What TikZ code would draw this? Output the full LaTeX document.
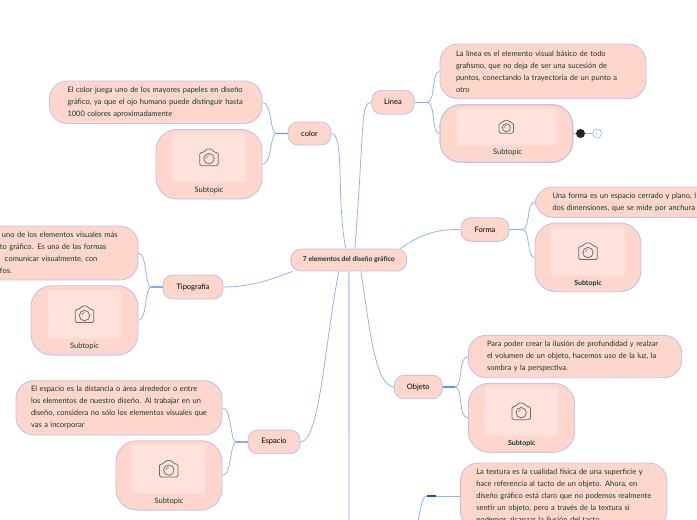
\documentclass[tikz,border=0pt]{standalone}
\usepackage{fontspec}
\setmainfont{Lato}
\definecolor{boxfill}{HTML}{FFD6CC}
\definecolor{boxline}{HTML}{C5C2E6}
\definecolor{innerfill}{HTML}{FFE2DC}
\definecolor{innerline}{HTML}{FBDAD3}
\definecolor{linkblue}{HTML}{8FB2FF}
\definecolor{brightblue}{HTML}{5F8CFF}
\definecolor{softblue}{HTML}{82A8FF}
\definecolor{darkblue}{HTML}{0A50F0}
\definecolor{paleblue}{HTML}{BBCDFF}
\definecolor{bodyink}{HTML}{0E3B2C}
\definecolor{camgrey}{HTML}{6A6A6A}
\tikzset{
  x=1pt,y=-1pt,
  textbox/.style={draw=boxline,fill=boxfill,line width=.9pt,rounded corners=18pt,align=left,inner ysep=0pt,
    text=bodyink,font=\fontsize{7.5}{12}\selectfont},
  subbox/.style={draw=boxline,fill=boxfill,line width=.9pt,rounded corners=21pt,inner sep=0pt},
  imgbox/.style={draw=innerline,fill=innerfill,line width=.6pt,rounded corners=2.5pt,inner sep=0pt},
  sublabel/.style={text=bodyink,font=\fontsize{7.5}{9}\selectfont,inner sep=0pt},
  sublabelb/.style={text=bodyink,font=\fontsize{7}{9}\bfseries\selectfont,inner sep=0pt},
  branch/.style={draw=boxline,fill=boxfill,line width=.9pt,rounded corners=10pt,inner sep=0pt,
    text=black,font=\fontsize{7.5}{9}\selectfont},
  rootbox/.style={draw=boxline,fill=boxfill,line width=.9pt,rounded corners=10pt,inner sep=0pt,
    text=bodyink,font=\fontsize{6.8}{9}\bfseries\selectfont},
  link/.style={draw=linkblue,line width=.8pt},
  stem/.style={draw=brightblue,line width=1.1pt},
  softstem/.style={draw=softblue,line width=1.2pt},
  pics/cam/.style={code={
    \draw[camgrey,line width=.75pt,rounded corners=1.6pt,scale=#1]
      (-9.3,-5) -- (-5,-5) -- (-3.2,-8.4) -- (3.2,-8.4) -- (5,-5) -- (9.3,-5) -- (9.3,8.2) -- (-9.3,8.2) -- cycle;
    \draw[camgrey,line width=.75pt,scale=#1] (0,1.2) circle (5.2);
    \draw[camgrey,line width=.5pt,scale=#1] (-2.6,0.8) arc (180:270:2.6);
  }}
}
\begin{document}
\begin{tikzpicture}
\useasboundingbox (0,0) rectangle (697,520);
\clip (0,0) rectangle (697,520);

\node[rootbox,minimum width=116pt,minimum height=22pt] (root) at (348.85,260) {7 elementos del diseño gráfico};

% branches
\node[branch,minimum width=43pt,minimum height=23pt] (colorN) at (309.5,133.5) {color};
\node[branch,minimum width=42.5pt,minimum height=24pt] (lineaN) at (393,102.2) {Linea};
\node[branch,minimum width=48pt,minimum height=23.6pt] (formaN) at (485,229.5) {Forma};
\node[branch,minimum width=60pt,minimum height=24pt] (tipoN) at (193,287) {Tipografía};
\node[branch,minimum width=52pt,minimum height=23.7pt] (espN) at (274,441.9) {Espacio};
\node[branch,minimum width=48pt,minimum height=23.4pt] (objN) at (418.3,387) {Objeto};

% text boxes
\node[textbox,minimum width=212.5pt,minimum height=42.5pt,inner xsep=18pt,text width=176.5pt] (colorT) at (155.75,102.25)
  {El color juega uno de los mayores papeles en diseño\\gráfico, ya que el ojo humano puede distinguir hasta\\1000 colores aproximadamente};
\node[textbox,minimum width=206pt,minimum height=54.7pt,inner xsep=16pt,text width=174pt] (lineaT) at (543,71.35)
  {La línea es el elemento visual básico de todo\\grafismo, que no deja de ser una sucesión de\\puntos, conectando la trayectoria de un punto a\\otro};
\node[textbox,minimum width=212pt,minimum height=30.3pt,inner xsep=17.5pt,text width=177pt] (formaT) at (641,202.15)
  {Una forma es un espacio cerrado y plano, l\\dos dimensiones, que se mide por anchura};
\node[textbox,minimum width=212pt,minimum height=54pt,inner xsep=16pt,text width=180pt] (tipoT) at (32,253)
  {\hspace*{60pt}uno de los elementos visuales más\\\hspace*{58pt}to gráfico. Es una de las formas\\\hspace*{63pt}comunicar visualmente, con\\\hspace*{58pt}fos.};
\node[textbox,minimum width=206pt,minimum height=54.3pt,inner xsep=15pt,text width=176pt] (espT) at (119,407.85)
  {El espacio es la distancia o área alrededor o entre\\los elementos de nuestro diseño. Al trabajar en un\\\mbox{diseño, considera no sólo los elementos visuales que}\\vas a incorporar};
\node[textbox,minimum width=213.4pt,minimum height=42.4pt,inner xsep=18.7pt,text width=176pt] (objT) at (575,356.5)
  {Para poder crear la ilusión de profundidad y realzar\\el volumen de un objeto, hacemos uso de la luz, la\\sombra y la perspectiva.};
\node[textbox,minimum width=206.7pt,minimum height=66pt,inner xsep=16pt,text width=174.7pt] (texT) at (563.65,496)
  {La textura es la cualidad física de una superficie y\\hace referencia al tacto de un objeto. Ahora, en\\\mbox{diseño gráfico está claro que no podemos realmente}\\sentir un objeto, pero a través de la textura si\\podemos alcanzar la ilusión del tacto.};

% subtopic boxes
\node[subbox,minimum width=106pt,minimum height=69.5pt] (colorS) at (209,164.25) {};
\node[imgbox,minimum width=74pt,minimum height=49pt] (colorI) at (209,157.5) {};
\pic at (colorI.center) {cam=1};
\node[sublabel] (colorL) at (209,190) {Subtopic};

\node[subbox,line width=1.3pt,minimum width=132.7pt,minimum height=57.6pt] (lineaS) at (506.35,133.5) {};
\node[imgbox,minimum width=100.7pt,minimum height=37pt] (lineaI) at (506.35,126.8) {};
\pic at (lineaI.center) {cam=.78};
\node[sublabel] (lineaL) at (507.5,152.5) {Subtopic};

\node[subbox,minimum width=106pt,minimum height=68.7pt] (formaS) at (588,257.35) {};
\node[imgbox,minimum width=74.6pt,minimum height=49.3pt] (formaI) at (588,251.35) {};
\pic at (formaI.center) {cam=1};
\node[sublabelb] (formaL) at (588,283.5) {Subtopic};

\node[subbox,minimum width=107pt,minimum height=69.4pt] (tipoS) at (84.5,320.4) {};
\node[imgbox,minimum width=73pt,minimum height=48.7pt] (tipoI) at (84.5,314.4) {};
\pic at (tipoI.center) {cam=1};
\node[sublabel] (tipoL) at (84.5,346.5) {Subtopic};

\node[subbox,minimum width=106pt,minimum height=69.3pt] (espS) at (169,475.4) {};
\node[imgbox,minimum width=74.3pt,minimum height=49.7pt] (espI) at (168.8,468.9) {};
\pic at (espI.center) {cam=1};
\node[sublabel] (espL) at (169,501.5) {Subtopic};

\node[subbox,minimum width=106.4pt,minimum height=69pt] (objS) at (521.5,417.8) {};
\node[imgbox,minimum width=74.3pt,minimum height=49pt] (objI) at (521.2,411.5) {};
\pic at (objI.center) {cam=1};
\node[sublabelb] (objL) at (521.7,443.5) {Subtopic};

% root connectors
\draw[link] (colorN.east) .. controls (345,134) and (336,200) .. ([xshift=-3pt]root.north);
\draw[link] (lineaN.west) .. controls (360,104) and (365,120) .. ([xshift=6pt]root.north);
\draw[link] (formaN.west) .. controls (435,229) and (420,235) .. ([xshift=-7pt]root.north east);
\draw[link] (tipoN.east) .. controls (250,287) and (270,280) .. ([xshift=2pt]root.south west);
\draw[link] (espN.east) .. controls (320,442) and (325,340) .. ([xshift=-10pt]root.south);
\draw[link] (objN.west) .. controls (375,385) and (370,330) .. ([xshift=12pt]root.south);
\coordinate (rootDown) at (349,520);
\draw[draw=paleblue,line width=1.4pt] (root.south) -- (rootDown);

% sub-branch connectors
\coordinate (colorJ) at (276,133.5);
\draw[stem] (colorN.west) -- (colorJ);
\draw[link] (colorJ) .. controls (270,133) and (272,103) .. (colorT.east);
\draw[link] (colorJ) .. controls (270,134) and (272,164) .. (colorS.east);

\coordinate (lineaJ) at (427,102.2);
\draw[softstem] (lineaN.east) -- (lineaJ);
\draw[link] (lineaJ) .. controls (436,102) and (431,72) .. (lineaT.west);
\draw[link] (lineaJ) .. controls (436,103) and (431,133) .. (lineaS.west);

\coordinate (formaJ) at (522,229.5);
\draw[softstem] (formaN.east) -- (formaJ);
\draw[link] (formaJ) .. controls (531,229) and (526,202) .. (formaT.west);
\draw[link] (formaJ) .. controls (531,230) and (526,257) .. (formaS.west);

\coordinate (tipoJ) at (151,287);
\draw[softstem] (tipoN.west) -- (tipoJ);
\draw[link] (tipoJ) .. controls (145,287) and (147,253) .. (tipoT.east);
\draw[link] (tipoJ) .. controls (145,287) and (147,320) .. (tipoS.east);

\coordinate (espJ) at (236,441.9);
\draw[softstem] (espN.west) -- (espJ);
\draw[link] (espJ) .. controls (230,442) and (232,408) .. (espT.east);
\draw[link] (espJ) .. controls (230,442) and (232,475) .. (espS.east);

\coordinate (objJ) at (455,387);
\draw[stem] (objN.east) -- (objJ);
\draw[link] (objJ) .. controls (463,387) and (458,357) .. (objT.west);
\draw[link] (objJ) .. controls (463,387) and (458,418) .. (objS.west);

\coordinate (texFrom) at (418,522);
\coordinate (texA) at (427,496);
\coordinate (texB) at (436,496);
\draw[link] (texFrom) .. controls (421,507) and (422,496) .. (texA);
\draw[link] (texB) -- (texT.west);
\draw[draw=darkblue,line width=1.1pt] (texA) -- (texB);

% collapsed marker
\node[circle,fill=black!85,minimum size=9pt,inner sep=0pt] (dot) at (580.5,133.5) {};
\node[circle,draw=linkblue,fill=white,line width=.6pt,minimum size=9pt,inner sep=0pt,text=linkblue,font=\fontsize{4.5}{5}\selectfont] (num) at (597,133.5) {1};
\draw[link] (dot) -- (num);
\draw[draw=linkblue,line width=.6pt] (lineaS.east) -- (dot);
\end{tikzpicture}
\end{document}
